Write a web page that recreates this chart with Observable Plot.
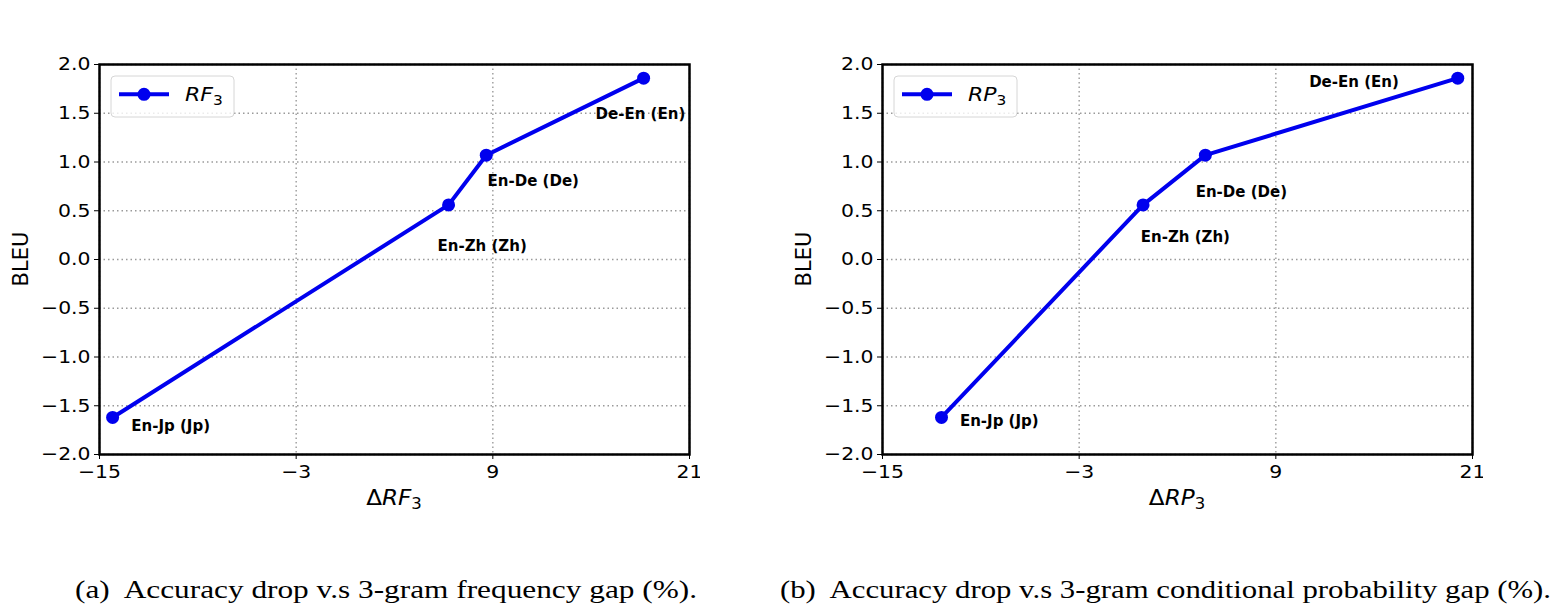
<!DOCTYPE html>
<html><head><meta charset="utf-8">
<script src="https://cdn.jsdelivr.net/npm/d3@7"></script>
<script src="https://cdn.jsdelivr.net/npm/@observablehq/plot@0.6"></script>
<style>
body{margin:0;background:#fff;}
#wrap{position:relative;width:1555px;height:611px;overflow:hidden;background:#fff;}
#wrap > svg{position:absolute;top:0;}
#caps{position:absolute;left:0;top:0;}
</style></head><body><div id="wrap"></div>
<script>
// ---- data ----
const langPairs = ["En-Jp (Jp)", "En-Zh (Zh)", "En-De (De)", "De-En (En)"];
const bleu = [-1.62, 0.56, 1.07, 1.86];
const rf3Gap = [-14.2, 6.3, 8.6, 18.2];
const rp3Gap = [-11.4, 0.9, 4.7, 20.1];
const xTicks = [-15, -3, 9, 21];
const yTicks = [-2.0, -1.5, -1.0, -0.5, 0.0, 0.5, 1.0, 1.5, 2.0];
const captions = ["(a)  Accuracy drop v.s 3-gram frequency gap (%).",
                  "(b)  Accuracy drop v.s 3-gram conditional probability gap (%)."];

// ---- styling ----
const BLUE = "#0000ee";
const W = 700, H = 520;
const M = {left: 99, right: 11, top: 64, bottom: 66};
// label offsets (px) from each point: [dx, dy to baseline]
const rfOffsets = [[18.7, 14], [-11, 45.7], [1.3, 30.7], [-48, 41]];
const rpOffsets = [[18.4, 8.3], [-2.3, 37.4], [-9.7, 41.7], [-148.6, 8.4]];

const minus = s => s.replace("-", "\u2212");
const fmtX = d => minus(String(d));
const fmtY = d => minus(d.toFixed(1));

function panel(gap, offsets, sym, leftPx) {
  const data = langPairs.map((p, i) => ({pair: p, x: gap[i], y: bleu[i]}));
  const gridStyle = {stroke: "#9a9a9a", strokeOpacity: 1, strokeDasharray: "1.5,3", strokeWidth: 1.4};
  const plot = Plot.plot({
    width: W, height: H,
    marginLeft: M.left, marginRight: M.right, marginTop: M.top, marginBottom: M.bottom,
    style: {fontFamily: "DejaVu Sans", fontSize: "18.5px", color: "black", background: "transparent"},
    x: {domain: [-15, 21]},
    y: {domain: [-2, 2]},
    marks: [
      Plot.gridX(xTicks, gridStyle),
      Plot.gridY(yTicks, gridStyle),
      Plot.axisX(xTicks, {tickSize: 5, tickPadding: 5, tickFormat: fmtX, label: null, fontSize: 18.5}),
      Plot.axisY(yTicks, {tickSize: 5, tickPadding: 4, tickFormat: fmtY, label: null, fontSize: 18.5}),
      Plot.line(data, {x: "x", y: "y", stroke: BLUE, strokeWidth: 4}),
      Plot.dot(data, {x: "x", y: "y", r: 6.5, fill: BLUE, stroke: "none"}),
      ...data.map((d, i) => Plot.text([d], {
        x: "x", y: "y", text: "pair", textAnchor: "start", lineAnchor: "bottom",
        dx: offsets[i][0], dy: offsets[i][1],
        fontWeight: "bold", fontFamily: "DejaVu Sans", fontSize: 15, fill: "black"
      })),
      Plot.frame({stroke: "black", strokeWidth: 2.5})
    ]
  });
  plot.style.left = leftPx + "px";
  const svg = d3.select(plot);
  const [x0, x1] = plot.scale("x").range;
  const [y0, y1] = plot.scale("y").range;
  const cx = (x0 + x1) / 2, cy = (y0 + y1) / 2;

  // y label
  svg.append("text").attr("transform", `translate(28,${cy}) rotate(-90)`)
    .attr("text-anchor", "middle").attr("font-size", 21).attr("fill", "black").text("BLEU");
  // x label
  const xl = svg.append("text").attr("x", cx).attr("y", 505).attr("class", "stretch")
    .attr("text-anchor", "middle").attr("font-size", 21).attr("fill", "black");
  xl.append("tspan").text("\u0394");
  xl.append("tspan").attr("font-style", "italic").text(sym);
  xl.append("tspan").attr("font-size", 15).attr("dy", 4).text("3");

  // legend
  const lx = x0 + 12, ly = 76;
  const g = svg.append("g");
  g.append("rect").attr("x", lx).attr("y", ly).attr("width", 123).attr("height", 41).attr("rx", 4)
    .attr("fill", "white").attr("fill-opacity", 0.8).attr("stroke", "#d6d6d6");
  g.append("line").attr("x1", lx + 8).attr("x2", lx + 58).attr("y1", ly + 18.3).attr("y2", ly + 18.3)
    .attr("stroke", BLUE).attr("stroke-width", 4);
  g.append("circle").attr("cx", lx + 33).attr("cy", ly + 18.3).attr("r", 6.5).attr("fill", BLUE);
  const lt = g.append("text").attr("x", lx + 74).attr("y", ly + 24.7).attr("class", "stretch")
    .attr("text-anchor", "start").attr("font-size", 20).attr("fill", "black");
  lt.append("tspan").attr("font-style", "italic").text(sym);
  lt.append("tspan").attr("font-size", 14).attr("dy", 4).text("3");
  return plot;
}

const wrap = document.getElementById("wrap");
const plots = [panel(rf3Gap, rfOffsets, "RF", 0), panel(rp3Gap, rpOffsets, "RP", 783.4)];
plots.forEach(p => wrap.appendChild(p));

// widen tick labels slightly to match the reference's proportions
plots.forEach(p => {
  d3.select(p).selectAll('g[aria-label$="tick label"] text, text.stretch').each(function () {
    const L = this.getComputedTextLength();
    if (L > 0) {
      this.setAttribute("textLength", (L * 1.1).toFixed(1));
      this.setAttribute("lengthAdjust", "spacingAndGlyphs");
    }
  });
});

// captions
const caps = d3.select(wrap).append("svg").attr("id", "caps").attr("width", 1555).attr("height", 611);
const capPos = [[75, 622], [780, 771]];
captions.forEach((c, i) => {
  caps.append("text").attr("x", capPos[i][0]).attr("y", 598)
    .attr("textLength", capPos[i][1]).attr("lengthAdjust", "spacingAndGlyphs")
    .attr("font-family", "Liberation Serif, Times New Roman, serif").attr("font-size", 26)
    .style("white-space", "pre").attr("fill", "black").text(c);
});
</script></body></html>
